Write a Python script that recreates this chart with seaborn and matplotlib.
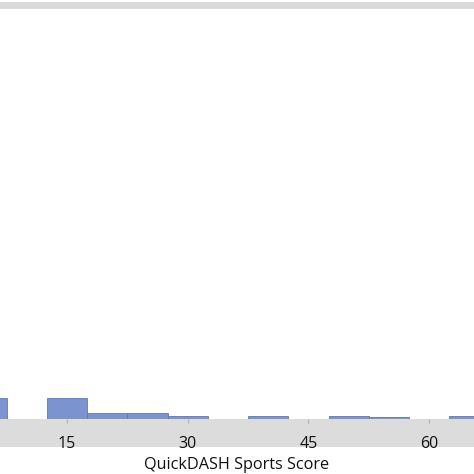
import matplotlib
matplotlib.use("Agg")
import matplotlib.pyplot as plt
import seaborn as sns
import numpy as np
import pandas as pd
from matplotlib.patches import Rectangle

# Data: bin centres (QuickDASH Sports Score) and percent of respondents
scores = [0, 5, 15, 20, 25, 30, 40, 50, 55, 65]
percent = [84.4, 4.8, 4.8, 1.47, 1.47, 0.66, 0.66, 0.66, 0.44, 0.66]
bin_edges = [-2.5, 2.5, 7.5, 12.5, 17.5, 22.5, 27.5, 32.5, 37.5, 42.5,
             47.5, 52.5, 57.5, 62.5, 67.5]
tick_values = [15, 30, 45, 60]
tick_labels = ["15", "30", "45", "60"]
x_label = "QuickDASH Sports Score"

df = pd.DataFrame({"score": scores, "pct": percent})

sns.set_style("white")
plt.rcParams["font.family"] = ["Open Sans", "DejaVu Sans"]

fig = plt.figure(figsize=(4.74, 4.74), dpi=100)
fig.patch.set_facecolor("white")

# gray bands (figure region outside plot area)
fig.patches.append(Rectangle((0, 0.057), 1, 0.058, transform=fig.transFigure,
                             facecolor="#dcdcdc", edgecolor="none", zorder=-5))
fig.patches.append(Rectangle((0, 0.982), 1, 0.014, transform=fig.transFigure,
                             facecolor="#dadada", edgecolor="none", zorder=-5))

ax = fig.add_axes([0, 0.115, 1, 0.867])
ax.set_zorder(2)
sns.histplot(data=df, x="score", weights="pct", bins=bin_edges, ax=ax,
             color="#7b94cf", alpha=1.0, edgecolor="#6478a8", linewidth=0.6)

ax.set_xlim(6.68, 65.56)
ax.set_ylim(0, 90)
for s in ax.spines.values():
    s.set_visible(False)
ax.set_yticks([])
ax.set_ylabel("")
ax.set_xlabel("")
ax.set_xticks(tick_values)
ax.set_xticklabels(tick_labels, fontsize=11.5, color="#111111")
ax.tick_params(axis="x", direction="out", length=3, width=0.8, color="#b0b0b0",
               pad=9, bottom=True)

fig.text(0.5, 0.0095, x_label, ha="center", va="baseline", fontsize=11.7,
         color="#111111")

fig.savefig("out.png", dpi=100)
